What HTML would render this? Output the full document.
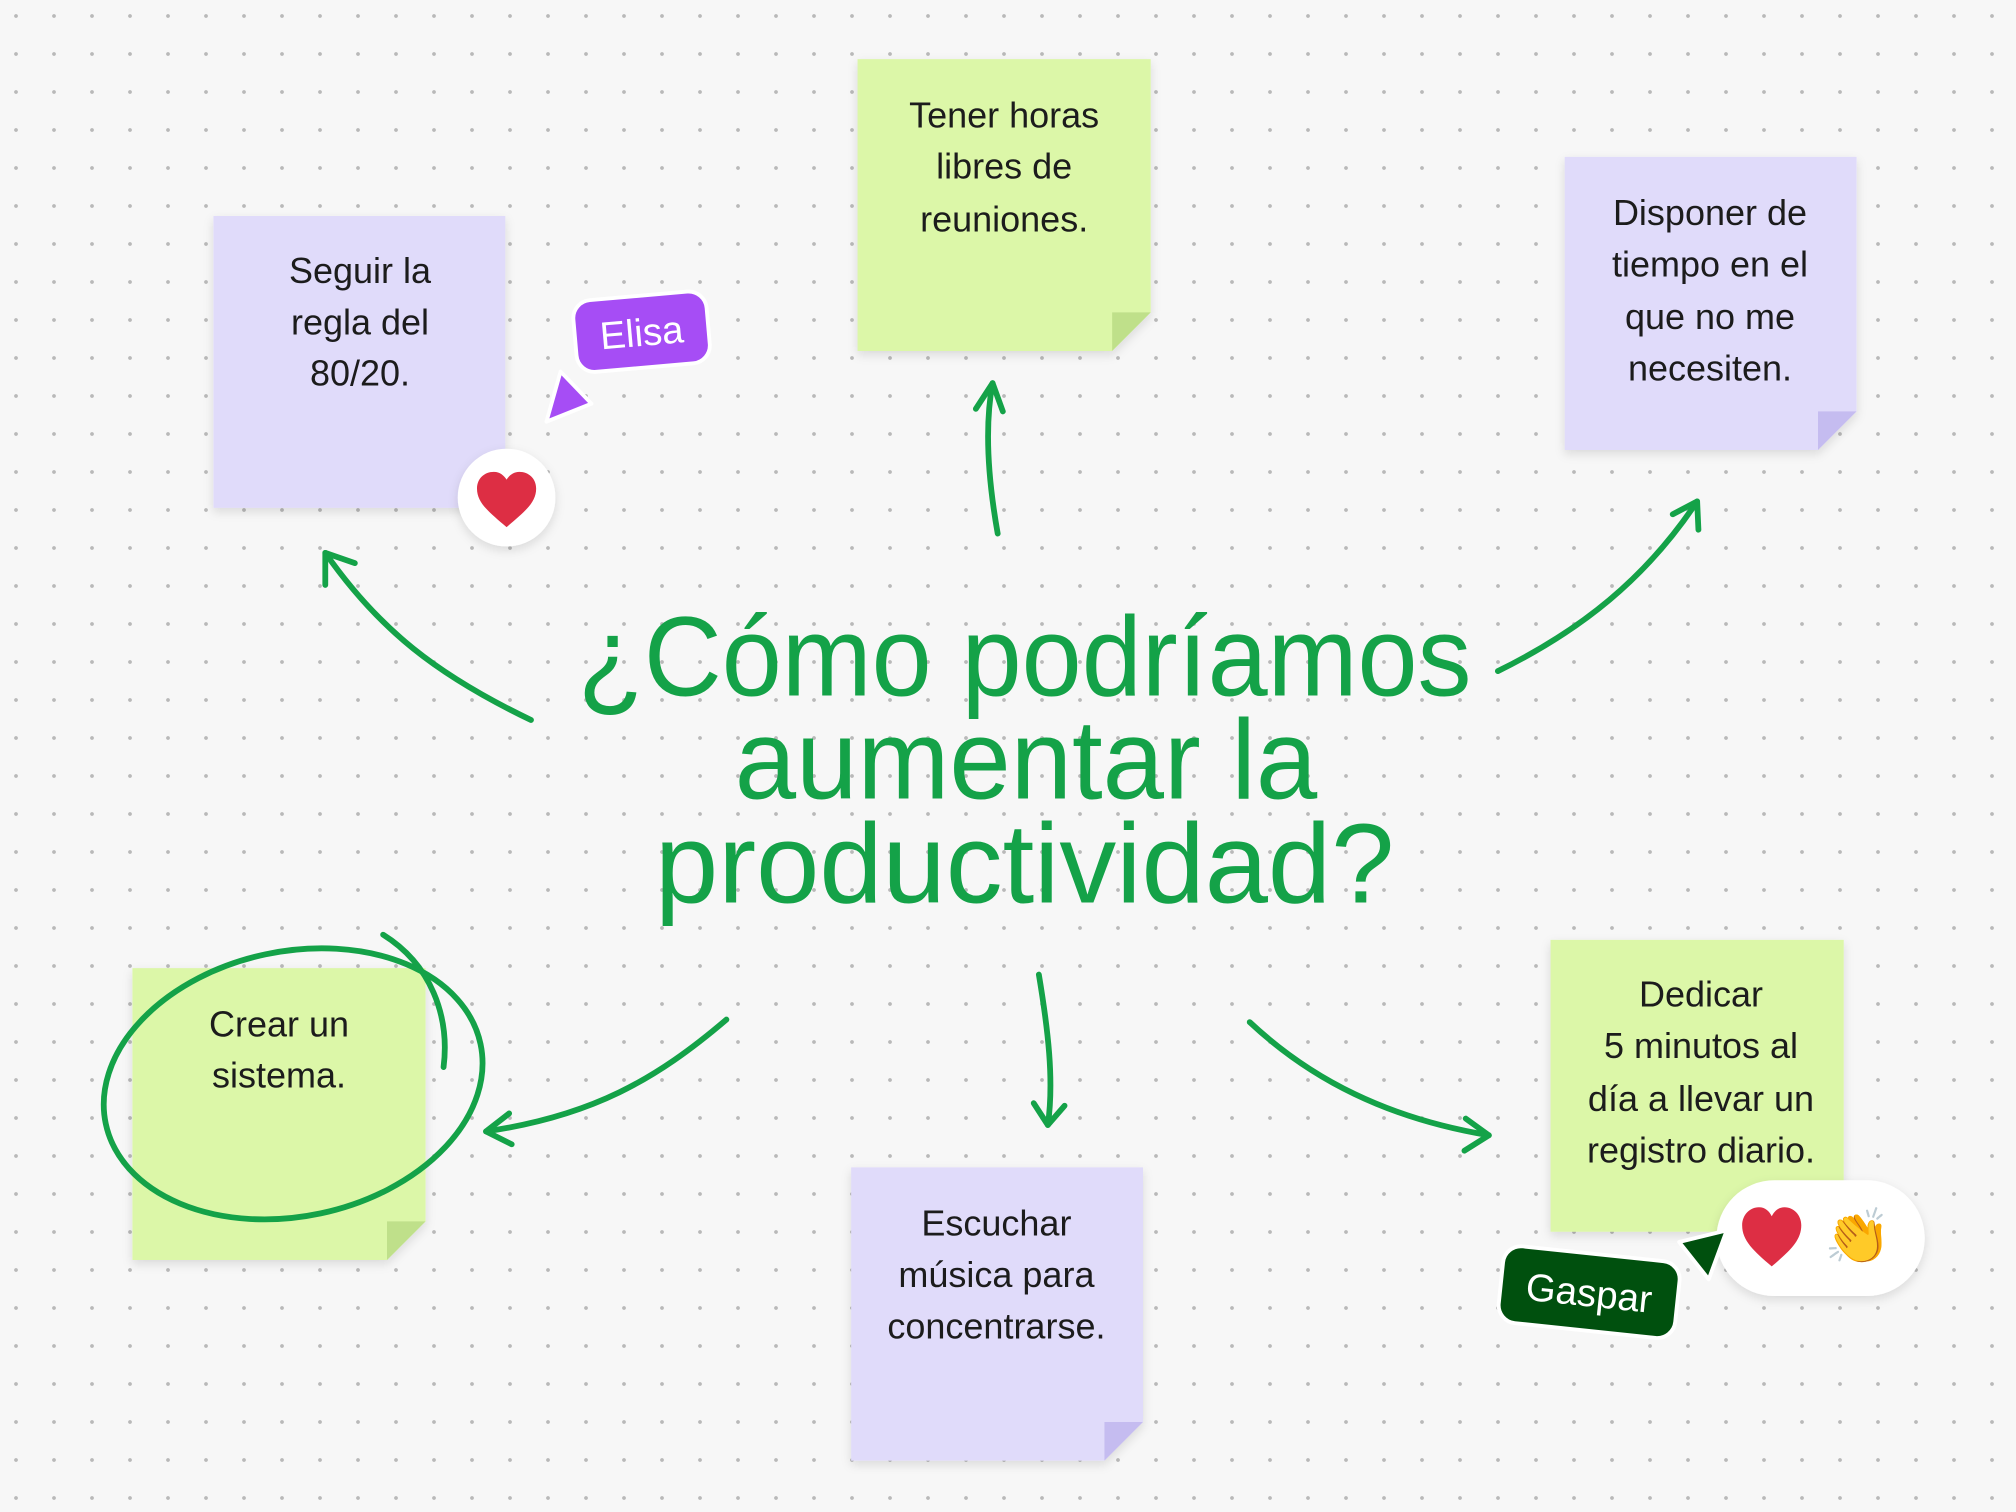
<!DOCTYPE html>
<html><head><meta charset="utf-8"><style>
html,body{margin:0;padding:0;}
body{width:2016px;height:1512px;overflow:hidden;background-color:#f7f7f7;
background-image:radial-gradient(circle,#b9b9b9 1.6px,transparent 2.2px);
background-size:38px 38px;background-position:-3px -3px;}
svg{position:absolute;left:0;top:0;}
.n{font-family:"Liberation Sans",sans-serif;font-size:28px;fill:#1c1c1c;text-anchor:middle;}
.t{font-family:"Liberation Sans",sans-serif;font-weight:400;fill:#14a248;text-anchor:middle;font-size:88px;}
</style></head><body>
<svg width="2016" height="1512" viewBox="0 0 1568 1176">
<defs>
<filter id="sh" x="-20%" y="-20%" width="140%" height="140%"><feDropShadow dx="0" dy="3" stdDeviation="4" flood-color="#000" flood-opacity="0.12"/></filter>
</defs>
<!-- notes -->
<g filter="url(#sh)">
<path d="M166 168H393V365L363 395H166Z" fill="#e0dbfa"/>
<path d="M667 46H895V243L865 273H667Z" fill="#dcf7a8"/>
<path d="M1217 122H1444V320L1414 350H1217Z" fill="#e0dbfa"/>
<path d="M103 753H331V950L301 980H103Z" fill="#dcf7a8"/>
<path d="M662 908H889V1106L859 1136H662Z" fill="#e0dbfa"/>
<path d="M1206 731H1434V928L1404 958H1206Z" fill="#dcf7a8"/>
</g>
<path d="M393 365L363 395V365Z" fill="#c5bcf0"/>
<path d="M895 243L865 273V243Z" fill="#bfe08a"/>
<path d="M1444 320L1414 350V320Z" fill="#c5bcf0"/>
<path d="M331 950L301 980V950Z" fill="#bfe08a"/>
<path d="M889 1106L859 1136V1106Z" fill="#c5bcf0"/>
<path d="M1434 928L1404 958V928Z" fill="#bfe08a"/>
<!-- note text -->
<text class="n"><tspan x="280" y="220">Seguir la</tspan><tspan x="280" y="260">regla del</tspan><tspan x="280" y="300">80/20.</tspan></text>
<text class="n"><tspan x="781" y="99">Tener horas</tspan><tspan x="781" y="139">libres de</tspan><tspan x="781" y="180">reuniones.</tspan></text>
<text class="n"><tspan x="1330" y="175">Disponer de</tspan><tspan x="1330" y="215">tiempo en el</tspan><tspan x="1330" y="256">que no me</tspan><tspan x="1330" y="296">necesiten.</tspan></text>
<text class="n"><tspan x="217" y="806">Crear un</tspan><tspan x="217" y="846">sistema.</tspan></text>
<text class="n"><tspan x="775" y="961">Escuchar</tspan><tspan x="775" y="1001">música para</tspan><tspan x="775" y="1041">concentrarse.</tspan></text>
<text class="n"><tspan x="1323" y="783">Dedicar</tspan><tspan x="1323" y="823">5 minutos al</tspan><tspan x="1323" y="864">día a llevar un</tspan><tspan x="1323" y="904">registro diario.</tspan></text>
<!-- title -->
<text class="t" x="797" y="541" textLength="695" lengthAdjust="spacingAndGlyphs">¿Cómo podríamos</text>
<text class="t" x="798" y="621" textLength="453" lengthAdjust="spacingAndGlyphs">aumentar la</text>
<text class="t" x="797" y="702" textLength="575" lengthAdjust="spacingAndGlyphs">productividad?</text>
<!-- arrows -->
<g fill="none" stroke="#14a248" stroke-width="4.5" stroke-linecap="round" stroke-linejoin="round">
<path d="M413 560C340 525 295 490 253 430"/><path d="M253 455L253 430L276 438"/>
<path d="M776 415C768 370 766 330 772 298"/><path d="M759 318L772 298L780 320"/>
<path d="M1165 522C1230 490 1280 450 1320 390"/><path d="M1301 400L1320 390L1321 412"/>
<path d="M565 793C510 840 460 868 378 880"/><path d="M396 866L378 880L398 890"/>
<path d="M808 758C815 800 820 840 815 875"/><path d="M804 858L815 875L828 860"/>
<path d="M972 795C1020 840 1080 870 1158 883"/><path d="M1140 870L1158 883L1139 895"/>
<ellipse cx="228" cy="843" rx="149" ry="103" transform="rotate(-12 228 843)"/>
<path d="M298 727C335 750 350 790 345 830"/>
</g>
<!-- heart badge -->
<circle cx="394" cy="387" r="38" fill="#fff" filter="url(#sh)"/>
<path d="M394 410C380 398 371 391 371 380C371 372 377 367 384 367C389 367 392 370 394 373C396 370 399 367 404 367C411 367 417 372 417 380C417 391 408 398 394 410Z" fill="#dd2e44"/>
<!-- Elisa -->
<path d="M425 328L436 289L460 314Z" fill="#a64df5" stroke="#fff" stroke-width="3" stroke-linejoin="round"/>
<g transform="rotate(-5 499 258)">
<rect x="447" y="230" width="104" height="56" rx="14" fill="#a64df5" stroke="#fff" stroke-width="3"/>
<text x="499" y="269" font-family="Liberation Sans,sans-serif" font-size="30" fill="#fff" text-anchor="middle">Elisa</text>
</g>
<!-- reactions -->
<rect x="1335" y="918" width="162" height="90" rx="45" fill="#fff" filter="url(#sh)"/>
<path d="M1378 985C1364 973 1355 965 1355 953C1355 945 1361 939 1368 939C1373 939 1376 942 1378 946C1380 942 1383 939 1388 939C1395 939 1401 945 1401 953C1401 965 1392 973 1378 985Z" fill="#dd2e44"/>
<text x="1445" y="976" font-size="42" text-anchor="middle" font-family="sans-serif">👏</text>
<!-- Gaspar -->
<path d="M1329 995L1306 966L1343 957Z" fill="#00500e" stroke="#fff" stroke-width="3" stroke-linejoin="round"/>
<g transform="rotate(6 1236 1005)">
<rect x="1167" y="975" width="138" height="60" rx="14" fill="#00500e" stroke="#fff" stroke-width="3"/>
<text x="1236" y="1016" font-family="Liberation Sans,sans-serif" font-size="30" fill="#fff" text-anchor="middle">Gaspar</text>
</g>
</svg>
</body></html>
